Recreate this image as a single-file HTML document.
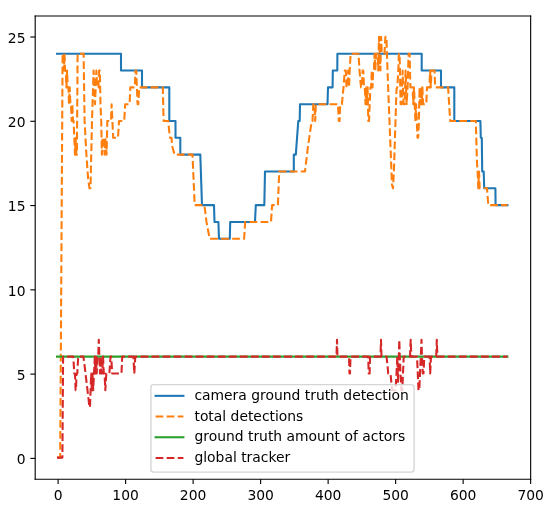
<!DOCTYPE html>
<html><head><meta charset="utf-8"><title>chart</title>
<style>html,body{margin:0;padding:0;background:#fff;}body{width:550px;height:511px;overflow:hidden;}svg{display:block;}</style>
</head><body>
<svg width="550" height="511" viewBox="0 0 550 511">
<g transform="scale(1.38888889)">
 <defs>
  <style type="text/css">*{stroke-linejoin: round; stroke-linecap: butt}</style>
 </defs>
 <g id="figure_1">
  <g id="patch_1">
   <path d="M 0 367.92 L 396 367.92 L 396 0 L 0 0 z
" style="fill: #ffffff"/>
  </g>
  <g id="axes_1">
   <g id="patch_2">
    <path d="M 25.344 345.024 L 382.068 345.024 L 382.068 11.52 L 25.344 11.52 z
" style="fill: #ffffff"/>
   </g>
   <g id="matplotlib.axis_1">
    <g id="xtick_1">
     <g id="line2d_1">
      <g>
       <path d="M 0 0 L 0 3.5 " transform="translate(41.832 345.024)" style="stroke: #000000; stroke-width: 0.8"/>
      </g>
     </g>
     <g id="text_1">
      <text style="font-size: 10px; font-family: 'DejaVu Sans', 'Liberation Sans', sans-serif; text-anchor: middle" x="41.832" y="360.0724">0</text>
     </g>
    </g>
    <g id="xtick_2">
     <g id="line2d_2">
      <g>
       <path d="M 0 0 L 0 3.5 " transform="translate(90.43704 345.024)" style="stroke: #000000; stroke-width: 0.8"/>
      </g>
     </g>
     <g id="text_2">
      <text style="font-size: 10px; font-family: 'DejaVu Sans', 'Liberation Sans', sans-serif; text-anchor: middle" x="90.43704" y="360.0724">100</text>
     </g>
    </g>
    <g id="xtick_3">
     <g id="line2d_3">
      <g>
       <path d="M 0 0 L 0 3.5 " transform="translate(139.04208 345.024)" style="stroke: #000000; stroke-width: 0.8"/>
      </g>
     </g>
     <g id="text_3">
      <text style="font-size: 10px; font-family: 'DejaVu Sans', 'Liberation Sans', sans-serif; text-anchor: middle" x="139.04208" y="360.0724">200</text>
     </g>
    </g>
    <g id="xtick_4">
     <g id="line2d_4">
      <g>
       <path d="M 0 0 L 0 3.5 " transform="translate(187.64712 345.024)" style="stroke: #000000; stroke-width: 0.8"/>
      </g>
     </g>
     <g id="text_4">
      <text style="font-size: 10px; font-family: 'DejaVu Sans', 'Liberation Sans', sans-serif; text-anchor: middle" x="187.64712" y="360.0724">300</text>
     </g>
    </g>
    <g id="xtick_5">
     <g id="line2d_5">
      <g>
       <path d="M 0 0 L 0 3.5 " transform="translate(236.25216 345.024)" style="stroke: #000000; stroke-width: 0.8"/>
      </g>
     </g>
     <g id="text_5">
      <text style="font-size: 10px; font-family: 'DejaVu Sans', 'Liberation Sans', sans-serif; text-anchor: middle" x="236.25216" y="360.0724">400</text>
     </g>
    </g>
    <g id="xtick_6">
     <g id="line2d_6">
      <g>
       <path d="M 0 0 L 0 3.5 " transform="translate(284.8572 345.024)" style="stroke: #000000; stroke-width: 0.8"/>
      </g>
     </g>
     <g id="text_6">
      <text style="font-size: 10px; font-family: 'DejaVu Sans', 'Liberation Sans', sans-serif; text-anchor: middle" x="284.8572" y="360.0724">500</text>
     </g>
    </g>
    <g id="xtick_7">
     <g id="line2d_7">
      <g>
       <path d="M 0 0 L 0 3.5 " transform="translate(333.46224 345.024)" style="stroke: #000000; stroke-width: 0.8"/>
      </g>
     </g>
     <g id="text_7">
      <text style="font-size: 10px; font-family: 'DejaVu Sans', 'Liberation Sans', sans-serif; text-anchor: middle" x="333.46224" y="360.0724">600</text>
     </g>
    </g>
    <g id="xtick_8">
     <g id="line2d_8">
      <g>
       <path d="M 0 0 L 0 3.5 " transform="translate(382.06728 345.024)" style="stroke: #000000; stroke-width: 0.8"/>
      </g>
     </g>
     <g id="text_8">
      <text style="font-size: 10px; font-family: 'DejaVu Sans', 'Liberation Sans', sans-serif; text-anchor: middle" x="382.06728" y="360.0724">700</text>
     </g>
    </g>
   </g>
   <g id="matplotlib.axis_2">
    <g id="ytick_1">
     <g id="line2d_9">
      <g>
       <path d="M 0 0 L -3.5 0 " transform="translate(25.344 330.048)" style="stroke: #000000; stroke-width: 0.8"/>
      </g>
     </g>
     <g id="text_9">
      <text style="font-size: 10px; font-family: 'DejaVu Sans', 'Liberation Sans', sans-serif; text-anchor: end" x="18.344" y="334.2972">0</text>
     </g>
    </g>
    <g id="ytick_2">
     <g id="line2d_10">
      <g>
       <path d="M 0 0 L -3.5 0 " transform="translate(25.344 269.3664)" style="stroke: #000000; stroke-width: 0.8"/>
      </g>
     </g>
     <g id="text_10">
      <text style="font-size: 10px; font-family: 'DejaVu Sans', 'Liberation Sans', sans-serif; text-anchor: end" x="18.344" y="273.6156">5</text>
     </g>
    </g>
    <g id="ytick_3">
     <g id="line2d_11">
      <g>
       <path d="M 0 0 L -3.5 0 " transform="translate(25.344 208.6848)" style="stroke: #000000; stroke-width: 0.8"/>
      </g>
     </g>
     <g id="text_11">
      <text style="font-size: 10px; font-family: 'DejaVu Sans', 'Liberation Sans', sans-serif; text-anchor: end" x="18.344" y="212.9340">10</text>
     </g>
    </g>
    <g id="ytick_4">
     <g id="line2d_12">
      <g>
       <path d="M 0 0 L -3.5 0 " transform="translate(25.344 148.0032)" style="stroke: #000000; stroke-width: 0.8"/>
      </g>
     </g>
     <g id="text_12">
      <text style="font-size: 10px; font-family: 'DejaVu Sans', 'Liberation Sans', sans-serif; text-anchor: end" x="18.344" y="152.2524">15</text>
     </g>
    </g>
    <g id="ytick_5">
     <g id="line2d_13">
      <g>
       <path d="M 0 0 L -3.5 0 " transform="translate(25.344 87.3216)" style="stroke: #000000; stroke-width: 0.8"/>
      </g>
     </g>
     <g id="text_13">
      <text style="font-size: 10px; font-family: 'DejaVu Sans', 'Liberation Sans', sans-serif; text-anchor: end" x="18.344" y="91.5708">20</text>
     </g>
    </g>
    <g id="ytick_6">
     <g id="line2d_14">
      <g>
       <path d="M 0 0 L -3.5 0 " transform="translate(25.344 26.64)" style="stroke: #000000; stroke-width: 0.8"/>
      </g>
     </g>
     <g id="text_14">
      <text style="font-size: 10px; font-family: 'DejaVu Sans', 'Liberation Sans', sans-serif; text-anchor: end" x="18.344" y="30.8892">25</text>
     </g>
    </g>
   </g>
   <g id="line2d_15">
    <path d="M 41.04 38.6496 L 87.12 38.6496 L 87.12 50.7672 L 102.24 50.7672 L 102.24 62.8848 L 121.896 62.8848 L 121.896 87.12 L 126.36 87.12 L 126.36 99.2376 L 129.816 99.2376 L 129.816 111.3552 L 144.216 111.3552 L 145.44 147.708 L 154.08 147.708 L 154.44 159.8256 L 157.248 159.8256 L 157.68 171.9432 L 165.456 171.9432 L 165.744 159.8256 L 183.6 159.8256 L 184.176 147.708 L 190.296 147.708 L 190.8 123.4728 L 211.536 123.4728 L 211.536 111.3552 L 212.976 111.3552 L 214.776 87.12 L 215.784 87.12 L 216 75.0024 L 235.8 75.0024 L 236.16 62.8848 L 239.472 62.8848 L 239.616 50.7672 L 242.856 50.7672 L 242.928 38.6496 L 303.624 38.6496 L 303.624 50.7672 L 317.52 50.7672 L 317.52 62.8848 L 327.096 62.8848 L 327.096 87.12 L 345.888 87.12 L 346.176 99.2376 L 346.896 99.2376 L 347.184 123.4728 L 348.264 123.4728 L 348.624 135.5904 L 356.688 135.5904 L 356.832 147.708 L 365.328 147.708 " clip-path="url(#p4bcad3515b)" style="fill: none; stroke: #1f77b4; stroke-width: 1.5; stroke-linecap: square"/>
   </g>
   <g id="line2d_16">
    <path d="M 41.04 329.472 L 43.344 329.472 L 45.072 38.6496 L 45.576 38.6496 L 46.008 50.7672 L 46.44 38.6496 L 46.872 50.7672 L 47.376 50.7672 L 47.808 62.8848 L 48.312 50.7672 L 48.744 62.8848 L 49.248 62.8848 L 49.68 75.0024 L 50.184 62.8848 L 50.688 75.0024 L 51.12 75.0024 L 51.624 87.12 L 52.056 75.0024 L 52.56 87.12 L 52.992 87.12 L 54 111.3552 L 54.432 99.2376 L 54.936 111.3552 L 55.368 111.3552 L 55.872 38.6496 L 60.192 38.6496 L 60.912 87.12 L 62.208 111.3552 L 63.504 129.5316 L 64.44 135.5904 L 65.16 135.5904 L 66.24 87.12 L 67.392 50.7672 L 68.4 75.0024 L 69.408 50.7672 L 69.912 62.8848 L 70.848 62.8848 L 71.352 50.7672 L 71.856 50.7672 L 72.36 75.0024 L 72.864 87.12 L 73.368 111.3552 L 73.872 99.2376 L 74.808 99.2376 L 75.312 111.3552 L 75.816 99.2376 L 76.752 111.3552 L 77.256 87.12 L 79.92 87.12 L 80.352 75.0024 L 81.504 99.2376 L 84.96 99.2376 L 85.68 87.12 L 89.424 87.12 L 90.144 75.0024 L 93.312 75.0024 L 93.816 62.8848 L 97.056 62.8848 L 97.56 50.7672 L 98.064 50.7672 L 99.072 75.0024 L 99.576 75.0024 L 100.224 62.8848 L 117.216 62.8848 L 117.792 87.12 L 121.176 87.12 L 121.68 93.1788 L 122.4 99.2376 L 123.48 99.2376 L 123.984 105.2964 L 125.712 111.3552 L 138.6 111.3552 L 140.184 147.708 L 147.168 147.708 L 148.68 159.8256 L 150.984 171.9432 L 175.752 171.9432 L 176.544 159.8256 L 195.12 159.8256 L 195.912 147.708 L 200.088 147.708 L 201.024 123.4728 L 219.6 123.4728 L 221.76 105.2964 L 224.424 87.12 L 225 87.12 L 225.576 75.0024 L 226.44 75.0024 L 226.944 87.12 L 227.376 75.0024 L 243.36 75.0024 L 243.936 87.12 L 244.512 87.12 L 244.944 75.0024 L 246.168 75.0024 L 247.32 62.8848 L 248.256 50.7672 L 248.976 50.7672 L 249.48 62.8848 L 250.2 62.8848 L 250.704 50.7672 L 251.28 62.8848 L 251.784 50.7672 L 252.432 38.6496 L 258.12 38.6496 L 258.84 50.7672 L 259.92 62.8848 L 260.568 62.8848 L 261.072 50.7672 L 261.576 50.7672 L 262.08 62.8848 L 262.656 62.8848 L 263.16 75.0024 L 263.664 62.8848 L 264.168 75.0024 L 264.672 62.8848 L 265.176 87.12 L 265.68 87.12 L 266.688 62.8848 L 267.192 62.8848 L 267.696 50.7672 L 268.2 62.8848 L 268.704 50.7672 L 269.208 50.7672 L 269.712 38.6496 L 270.216 50.7672 L 270.72 38.6496 L 271.872 38.6496 L 272.376 50.7672 L 272.88 26.532 L 273.888 50.7672 L 274.392 26.532 L 274.896 38.6496 L 276.84 38.6496 L 277.488 26.532 L 278.208 26.532 L 279 50.7672 L 282.24 133.16688 L 282.96 135.5904 L 283.608 123.4728 L 285.48 64.09656 L 286.056 62.8848 L 286.776 50.7672 L 287.208 38.6496 L 287.712 38.6496 L 288.432 75.0024 L 289.152 75.0024 L 289.872 50.7672 L 290.592 75.0024 L 291.312 75.0024 L 292.032 50.7672 L 292.752 75.0024 L 293.472 62.8848 L 294.192 38.6496 L 294.912 38.6496 L 295.488 62.8848 L 297.072 62.8848 L 297.576 75.0024 L 298.08 62.8848 L 299.088 87.12 L 299.592 75.0024 L 300.6 99.2376 L 301.104 99.2376 L 301.608 87.12 L 302.112 62.8848 L 302.616 75.0024 L 303.12 62.8848 L 303.624 75.0024 L 304.128 62.8848 L 304.632 75.0024 L 306.936 75.0024 L 307.44 62.8848 L 309.168 62.8848 L 309.672 50.7672 L 310.176 62.8848 L 310.68 50.7672 L 312.84 50.7672 L 313.344 62.8848 L 322.632 62.8848 L 324.144 87.12 L 342.576 87.12 L 343.44 117.414 L 343.872 123.4728 L 344.376 135.5904 L 344.88 123.4728 L 345.384 135.5904 L 350.64 135.5904 L 351.576 147.708 L 365.328 147.708 L 365.328 147.708 " clip-path="url(#p4bcad3515b)" style="fill: none; stroke-dasharray: 5.55,2.4; stroke-dashoffset: 0; stroke: #ff7f0e; stroke-width: 1.5"/>
   </g>
   <g id="line2d_17">
    <path d="M 41.04 256.7664 L 365.328 256.7664 " clip-path="url(#p4bcad3515b)" style="fill: none; stroke: #2ca02c; stroke-width: 1.5; stroke-linecap: square"/>
   </g>
   <g id="line2d_18">
    <path d="M 41.04 329.472 L 44.928 329.472 L 45.432 256.7664 L 52.776 256.7664 L 53.496 268.884 L 54 268.884 L 54.432 281.0016 L 54.72 281.0016 L 55.08 268.884 L 55.656 268.884 L 56.304 256.7664 L 60.048 256.7664 L 60.84 262.8252 L 61.56 268.884 L 62.28 274.9428 L 63 281.0016 L 63.72 287.0604 L 64.368 293.1192 L 64.8 293.1192 L 65.232 281.0016 L 65.664 268.884 L 66.096 281.0016 L 66.6 268.884 L 67.104 281.0016 L 67.68 268.884 L 68.256 256.7664 L 68.688 268.884 L 69.12 256.7664 L 69.624 268.884 L 70.128 256.7664 L 70.704 256.7664 L 71.136 244.6488 L 71.568 256.7664 L 72 268.884 L 72.576 256.7664 L 73.08 268.884 L 73.656 268.884 L 74.16 256.7664 L 74.736 268.884 L 75.312 268.884 L 75.816 281.0016 L 76.536 268.884 L 78.768 268.884 L 79.56 256.7664 L 80.064 256.7664 L 80.784 268.884 L 87.48 268.884 L 87.984 256.7664 L 96.048 256.7664 L 96.696 268.884 L 97.416 256.7664 L 242.28 256.7664 L 242.64 244.6488 L 243 256.7664 L 251.28 256.7664 L 251.64 268.884 L 252 268.884 L 252.36 256.7664 L 265.104 256.7664 L 265.464 268.884 L 266.112 268.884 L 266.472 256.7664 L 273.96 256.7664 L 274.32 244.6488 L 274.68 256.7664 L 278.28 256.7664 L 279 262.8252 L 279.504 268.884 L 281.16 268.884 L 281.736 274.9428 L 282.456 281.0016 L 283.68 281.0016 L 284.76 281.0016 L 285.48 268.884 L 286.056 256.7664 L 286.56 274.9428 L 287.136 256.7664 L 287.496 244.6488 L 287.856 256.7664 L 288.36 268.884 L 289.08 281.0016 L 289.656 281.0016 L 290.16 268.884 L 290.664 256.7664 L 295.2 256.7664 L 295.704 244.6488 L 296.208 256.7664 L 300.24 256.7664 L 300.816 268.884 L 301.32 281.0016 L 301.896 281.0016 L 302.4 268.884 L 302.976 256.7664 L 303.48 244.6488 L 303.84 256.7664 L 304.416 268.884 L 304.92 268.884 L 305.496 256.7664 L 309.312 256.7664 L 309.744 268.884 L 310.32 256.7664 L 314.064 256.7664 L 314.496 244.6488 L 314.928 256.7664 L 365.328 256.7664 " clip-path="url(#p4bcad3515b)" style="fill: none; stroke-dasharray: 5.55,2.4; stroke-dashoffset: 0; stroke: #d62728; stroke-width: 1.5"/>
   </g>
   <g id="patch_3">
    <path d="M 25.344 345.024 L 25.344 11.52 " style="fill: none; stroke: #000000; stroke-width: 0.8; stroke-linejoin: miter; stroke-linecap: square"/>
   </g>
   <g id="patch_4">
    <path d="M 382.068 345.024 L 382.068 11.52 " style="fill: none; stroke: #000000; stroke-width: 0.8; stroke-linejoin: miter; stroke-linecap: square"/>
   </g>
   <g id="patch_5">
    <path d="M 25.344 345.024 L 382.068 345.024 " style="fill: none; stroke: #000000; stroke-width: 0.8; stroke-linejoin: miter; stroke-linecap: square"/>
   </g>
   <g id="patch_6">
    <path d="M 25.344 11.52 L 382.068 11.52 " style="fill: none; stroke: #000000; stroke-width: 0.8; stroke-linejoin: miter; stroke-linecap: square"/>
   </g>
  </g>
 </g>
 <defs>
  <clipPath id="p4bcad3515b">
   <rect x="25.344" y="11.52" width="356.724" height="333.504"/>
  </clipPath>
 </defs>
</g>
<g id="legend" style="font-family: 'DejaVu Sans', 'Liberation Sans', sans-serif; font-size: 13.8889px;">
 <rect x="150.9" y="384.65" width="263.2" height="87.45" rx="2.78" ry="2.78" style="fill:#ffffff; opacity:0.8; stroke:#cccccc; stroke-width:1.3889"/>
 <path d="M 155.6 395.85 L 183.4 395.85" style="fill:none; stroke:#1f77b4; stroke-width:2.0833; stroke-linecap:square"/>
 <path d="M 155.6 416.55 L 183.4 416.55" style="fill:none; stroke:#ff7f0e; stroke-width:2.0833; stroke-dasharray:7.7083,3.3333"/>
 <path d="M 155.6 437.25 L 183.4 437.25" style="fill:none; stroke:#2ca02c; stroke-width:2.0833; stroke-linecap:square"/>
 <path d="M 155.6 457.95 L 183.4 457.95" style="fill:none; stroke:#d62728; stroke-width:2.0833; stroke-dasharray:7.7083,3.3333"/>
 <text x="194.45" y="399.9">camera ground truth detection</text>
 <text x="194.45" y="420.6">total detections</text>
 <text x="194.45" y="441.3">ground truth amount of actors</text>
 <text x="194.45" y="462.0">global tracker</text>
</g>

</svg>
</body></html>
